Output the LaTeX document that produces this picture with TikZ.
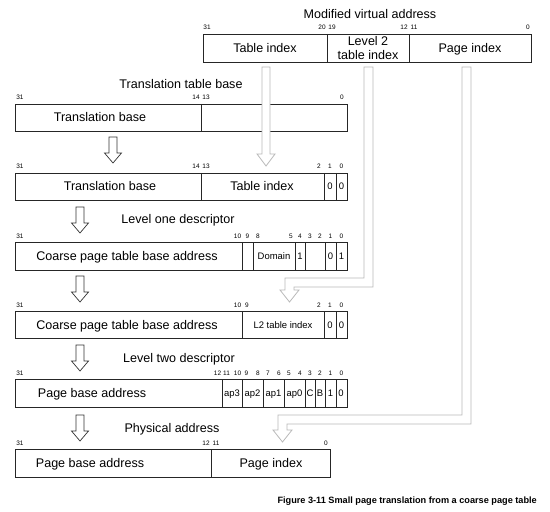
\documentclass[tikz,border=0pt]{standalone}
\usepackage{fontspec}
\setmainfont{Liberation Sans}

\tikzset{
  hollowdown/.pic={
    \draw[hollow] (-4,0) -- (-4,16) -- (-8.5,16) -- (0,26) -- (8.5,16) -- (4,16) -- (4,0) -- cycle;
  }
}

\begin{document}
\begin{tikzpicture}[x=1bp, y=-1bp,
    reg/.style={draw=black!85, line width=0.7bp},
    fld/.style={inner sep=0pt, anchor=base, font=\fontsize{12.6}{14}\selectfont},
    sfld/.style={inner sep=0pt, anchor=base, font=\fontsize{9.5}{11}\selectfont},
    bit/.style={inner sep=0pt, anchor=base, font=\fontsize{6.5}{7}\selectfont},
    ttl/.style={inner sep=0pt, anchor=base, font=\fontsize{12.6}{14}\selectfont},
    hollow/.style={draw=black!80, fill=white, line width=0.7bp, line join=miter},
    route/.style={draw=gray!55, fill=white, line width=0.8bp, line join=miter}]
  \useasboundingbox (0,0) rectangle (550,512);

  % Modified virtual address
  \node[ttl] (mva) at (370,18.5) {Modified virtual address};
  \draw[reg] (203,34) rectangle (531,62);
  \foreach \x in {327,409} { \draw[reg] (\x,34) -- (\x,62); }
  \foreach \x/\b [count=\k] in {207/31,322/20,332/19,404/12,414/11,528/0} {
    \node[bit] (mvab\k) at (\x,30) {\b};
  }
  \node[fld] (mvati) at (265,52.5) {Table index};
  \node[fld, align=center, anchor=center] (mval2) at (368,48) {Level 2\\table index};
  \node[fld] (mvapi) at (470,52.5) {Page index};

  % Translation table base
  \node[ttl] (ttb) at (181,88.5) {Translation table base};
  \draw[reg] (15,104) rectangle (347,131);
  \draw[reg] (201,104) -- (201,131);
  \foreach \x/\b [count=\k] in {20/31,196/14,206/13,342/0} {
    \node[bit] (ttbb\k) at (\x,100) {\b};
  }
  \node[fld] (ttbtb) at (100,122) {Translation base};
  \pic at (113,137) {hollowdown};

  % Translation base + table index
  \draw[reg] (15,173) rectangle (347,200);
  \foreach \x in {201,324,336} { \draw[reg] (\x,173) -- (\x,200); }
  \foreach \x/\b [count=\k] in {20/31,196/14,206/13,319/2,330/1,341.5/0} {
    \node[bit] (l1ab\k) at (\x,169) {\b};
  }
  \node[fld] (l1atb) at (110,191) {Translation base};
  \node[fld] (l1ati) at (262,191) {Table index};
  \node[sfld] (l1a1) at (330,190) {0};
  \node[sfld] (l1a0) at (341.5,190) {0};
  \pic at (80,207) {hollowdown};

  % Level one descriptor
  \node[ttl] (l1d) at (178,223) {Level one descriptor};
  \draw[reg] (15,242) rectangle (347,270);
  \foreach \x in {242,253,295,305,325,336} { \draw[reg] (\x,242) -- (\x,270); }
  \foreach \x/\b [count=\k] in {20/31,237.5/10,247.5/9,258/8,291/5,300/4,310/3,320/2,330.5/1,341.5/0} {
    \node[bit] (l1db\k) at (\x,238) {\b};
  }
  \node[fld] (l1dcp) at (127,260.5) {Coarse page table base address};
  \node[sfld] (l1ddom) at (274,259.5) {Domain};
  \node[sfld] (l1d4) at (300,259.5) {1};
  \node[sfld] (l1d1) at (330.5,259.5) {0};
  \node[sfld] (l1d0) at (341.5,259.5) {1};
  \pic at (80,276) {hollowdown};

  % Coarse page table base + L2 table index
  \draw[reg] (15,311) rectangle (347,338);
  \foreach \x in {242,324,336} { \draw[reg] (\x,311) -- (\x,338); }
  \foreach \x/\b [count=\k] in {20/31,237.5/10,247/9,319/2,330/1,341.5/0} {
    \node[bit] (l2ab\k) at (\x,307) {\b};
  }
  \node[fld] (l2acp) at (127,329) {Coarse page table base address};
  \node[sfld] (l2ati) at (283,328) {L2 table index};
  \node[sfld] (l2a1) at (330,328) {0};
  \node[sfld] (l2a0) at (341.5,328) {0};
  \pic at (80,345) {hollowdown};

  % Level two descriptor
  \node[ttl] (l2d) at (179,362.5) {Level two descriptor};
  \draw[reg] (15,379) rectangle (347,407);
  \foreach \x in {222,242,263,284,305,315,325,336} { \draw[reg] (\x,379) -- (\x,407); }
  \foreach \x/\b [count=\k] in {20/31,217.5/12,226.5/11,237.5/10,246.5/9,258/8,268/7,279/6,289/5,300/4,310/3,320/2,330.5/1,341.5/0} {
    \node[bit] (l2db\k) at (\x,375) {\b};
  }
  \node[fld] (l2dpb) at (92,397.5) {Page base address};
  \foreach \x/\t [count=\k] in {232/ap3,252.5/ap2,273.5/ap1,294.5/ap0,310/C,320/B,330.5/1,341/0} {
    \node[sfld] (l2df\k) at (\x,396.5) {\t};
  }
  \pic at (80,415) {hollowdown};

  % Physical address
  \node[ttl] (pa) at (172,432.5) {Physical address};
  \draw[reg] (15,449) rectangle (330,477);
  \draw[reg] (211,449) -- (211,477);
  \foreach \x/\b [count=\k] in {20/31,206/12,216/11,326/0} {
    \node[bit] (pab\k) at (\x,445) {\b};
  }
  \node[fld] (papb) at (90,467.5) {Page base address};
  \node[fld] (papi) at (271,467.5) {Page index};

  % Routes from the modified virtual address
  \draw[route] (262,67) -- (262,154) -- (257,154) -- (266,166) -- (275,154) -- (270,154) -- (270,67) -- cycle;
  \draw[route] (364,67) -- (364,278) -- (285,278) -- (285,290) -- (280,290) -- (289.5,302)
    -- (299,290) -- (294,290) -- (294,287) -- (373,287) -- (373,67) -- cycle;
  \draw[route] (462,67) -- (462,415) -- (278,415) -- (278,430) -- (273,430) -- (282.5,442)
    -- (292,430) -- (287,430) -- (287,424) -- (471,424) -- (471,67) -- cycle;

  % Caption
  \node[inner sep=0pt, anchor=base east, font=\fontsize{9.2}{11}\bfseries] (cap) at (537,503)
    {Figure 3-11 Small page translation from a coarse page table};
\end{tikzpicture}
\end{document}
